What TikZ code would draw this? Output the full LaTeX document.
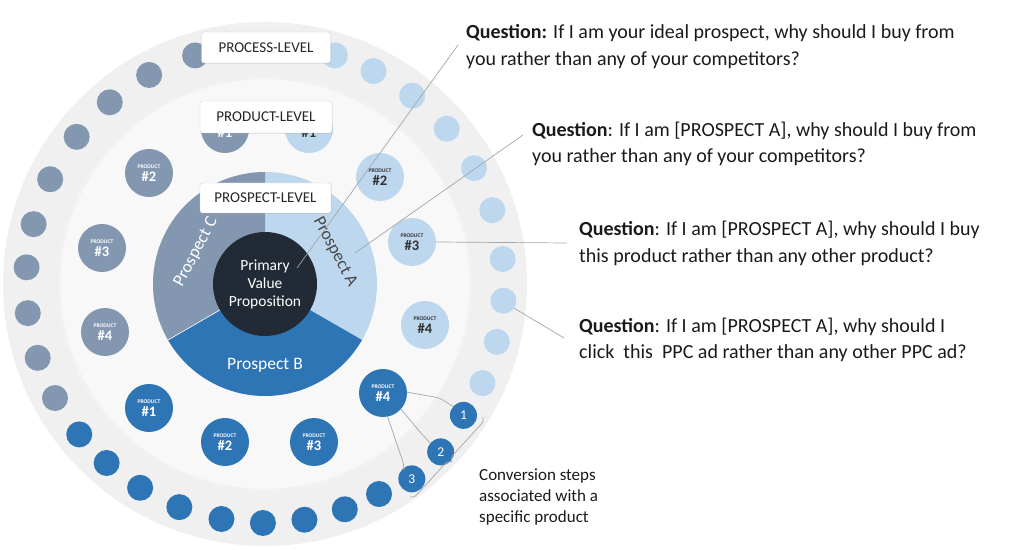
\documentclass[tikz,border=0pt]{standalone}
\usepackage{fontspec}
\setmainfont{Carlito}
\usetikzlibrary{shadows,decorations.pathreplacing}
\definecolor{gblue}{HTML}{8497B0}
\definecolor{lblue}{HTML}{BDD7EE}
\definecolor{mblue}{HTML}{2E75B6}
\definecolor{navy}{HTML}{222A35}
\definecolor{ringgray}{HTML}{F0F0F0}
\definecolor{innergray}{HTML}{F8F8F8}
\definecolor{linegray}{HTML}{A6A6A6}
\definecolor{txt}{HTML}{1A1A1A}
\newcommand{\prodlabel}[1]{{\fontsize{5.6}{5}\selectfont\bfseries PRODUCT}\\{\bfseries\##1}}
\begin{document}
\begin{tikzpicture}[x=1pt,y=1pt,
  dot/.style={circle,minimum size=26pt,inner sep=0pt},
  numdot/.style={circle,minimum size=27pt,inner sep=0pt,fill=mblue,text=white,font=\fontsize{13.5}{14}\selectfont},
  prod/.style={circle,minimum size=48pt,inner sep=0pt,align=center,font=\fontsize{14.5}{12.5}\selectfont},
  lvl/.style={draw=black!18,fill=white,rounded corners=2.5pt,minimum height=31pt,minimum width=130pt,inner sep=0pt,font=\fontsize{15}{17}\selectfont,text=black!85,drop shadow={opacity=0.15,shadow xshift=0.8pt,shadow yshift=-1pt}},
  ques/.style={anchor=west,align=left,font=\fontsize{20}{26.5}\selectfont,text=txt,inner sep=0pt},
  cline/.style={draw=linegray,line width=0.7pt},
]
\useasboundingbox (0,0) rectangle (1024,549);
\coordinate (C) at (265,265);
% background discs
\fill[ringgray] (C) circle (262);
\fill[innergray] (C) circle (205);
\draw[black!5,line width=2.5pt] (C) circle (206);

% process-level dots
\foreach \a [count=\i] in {107,119,130.5,142,154,165.5,176,187,198,208.5}
  \node[dot,fill=gblue] (dg\i) at ([shift={(\a:239)}]C) {};
\foreach \a [count=\i] in {219,228.5,238.5,249,259.5,269.5,279.5,289.5,298.5}
  \node[dot,fill=mblue] (db\i) at ([shift={(\a:239)}]C) {};
\foreach \a [count=\i] in {335.5,346,356,6,18,29,40.5,52,63,73}
  \node[dot,fill=lblue] (dl\i) at ([shift={(\a:239)}]C) {};
\node[numdot] (n1) at ([shift={(326.5:238)}]C) {1};
\node[numdot] (n2) at ([shift={(316.3:243)}]C) {2};
\node[numdot] (n3) at ([shift={(307:244)}]C) {3};

% product-level circles
\node[prod,fill=gblue,text=white] (pg1) at (225,420) {\prodlabel{1}};
\node[prod,fill=gblue,text=white] (pg2) at (149,376) {\prodlabel{2}};
\node[prod,fill=gblue,text=white] (pg3) at (102,301) {\prodlabel{3}};
\node[prod,fill=gblue,text=white] (pg4) at (105,217) {\prodlabel{4}};
\node[prod,fill=mblue,text=white] (pb1) at (149,141) {\prodlabel{1}};
\node[prod,fill=mblue,text=white] (pb2) at (225,107) {\prodlabel{2}};
\node[prod,fill=mblue,text=white] (pb3) at (314,107) {\prodlabel{3}};
\node[prod,fill=mblue,text=white] (pb4) at (383,156) {\prodlabel{4}};
\node[prod,fill=lblue,text=black!80] (pl1) at (309,420) {\prodlabel{1}};
\node[prod,fill=lblue,text=black!80] (pl2) at (380,372) {\prodlabel{2}};
\node[prod,fill=lblue,text=black!80] (pl3) at (412,307) {\prodlabel{3}};
\node[prod,fill=lblue,text=black!80] (pl4) at (425,224) {\prodlabel{4}};

% prospect pie
\fill[lblue] (C) -- ([shift={(90:112)}]C) arc[start angle=90,end angle=-30,radius=112] -- cycle;
\fill[mblue] (C) -- ([shift={(-30:112)}]C) arc[start angle=-30,end angle=-150,radius=112] -- cycle;
\fill[gblue] (C) -- ([shift={(210:112)}]C) arc[start angle=210,end angle=90,radius=112] -- cycle;
\draw[white,line width=0.6pt] (C) -- ([shift={(210:112)}]C);
\node[circle,fill=navy,minimum size=104pt,inner sep=0pt,text=white,align=center,font=\fontsize{15.5}{18}\selectfont] (core) at (C) {Primary\\Value\\Proposition};
\node[text=white,rotate=62,font=\fontsize{17.5}{20}\selectfont] (pc) at (196,297) {Prospect C};
\node[text=black!72,rotate=-62,font=\fontsize{17.5}{20}\selectfont] (pa) at (335,297) {Prospect A};
\node[text=white,font=\fontsize{17.5}{20}\selectfont] (pbt) at (265,184) {Prospect B};

% level labels
\node[lvl,minimum width=129pt] (lproc) at (266,501.5) {PROCESS-LEVEL};
\node[lvl,minimum width=132pt,minimum height=32pt] (lprod) at (266,432) {PRODUCT-LEVEL};
\node[lvl,minimum width=131pt,minimum height=30pt] (lpros) at (265.5,351) {PROSPECT-LEVEL};

% questions
\node[ques] (q1) at (466,502.5) {\textbf{Question:} If I am your ideal prospect, why should I buy from\\you rather than any of your competitors?};
\node[ques] (q2) at (532,405) {\textbf{Question}: If I am [PROSPECT A], why should I buy from\\you rather than any of your competitors?};
\node[ques] (q3) at (579,305.5) {\textbf{Question}: If I am [PROSPECT A], why should I buy\\this product rather than any other product?};
\node[ques] (q4) at (579,209) {\textbf{Question}: If I am [PROSPECT A], why should I\\click~ this~ PPC ad rather than any other PPC ad?};
\node[anchor=west,align=left,inner sep=0pt,text=txt,font=\fontsize{17}{21}\selectfont] (conv) at (479,52) {Conversion steps\\associated with a\\specific product};

% connectors
\coordinate (s1) at (297,281);
\coordinate (s2) at (355,296);
\draw[cline] (s1) -- ([shift={(-8,1.5)}]q1.west);
\draw[cline] (s2) -- ([shift={(-9,9)}]q2.west);
\draw[cline] (pl3.east) -- ([shift={(-12,0.5)}]q3.west);
\draw[cline] (dl3.-35) -- ([shift={(-15,2)}]q4.west);

% conversion steps
\draw[cline,rounded corners=5pt] (pb4.2) -- (440,151) -- (n1.140);
\draw[cline,rounded corners=5pt] (pb4.-42) -- (420,117) -- (n2.140);
\draw[cline,rounded corners=5pt] (pb4.-79) -- (404,84) -- (n3.125);
\draw[cline,decorate,decoration={brace,amplitude=7pt}] (483,132) -- (410,52);
\end{tikzpicture}
\end{document}
